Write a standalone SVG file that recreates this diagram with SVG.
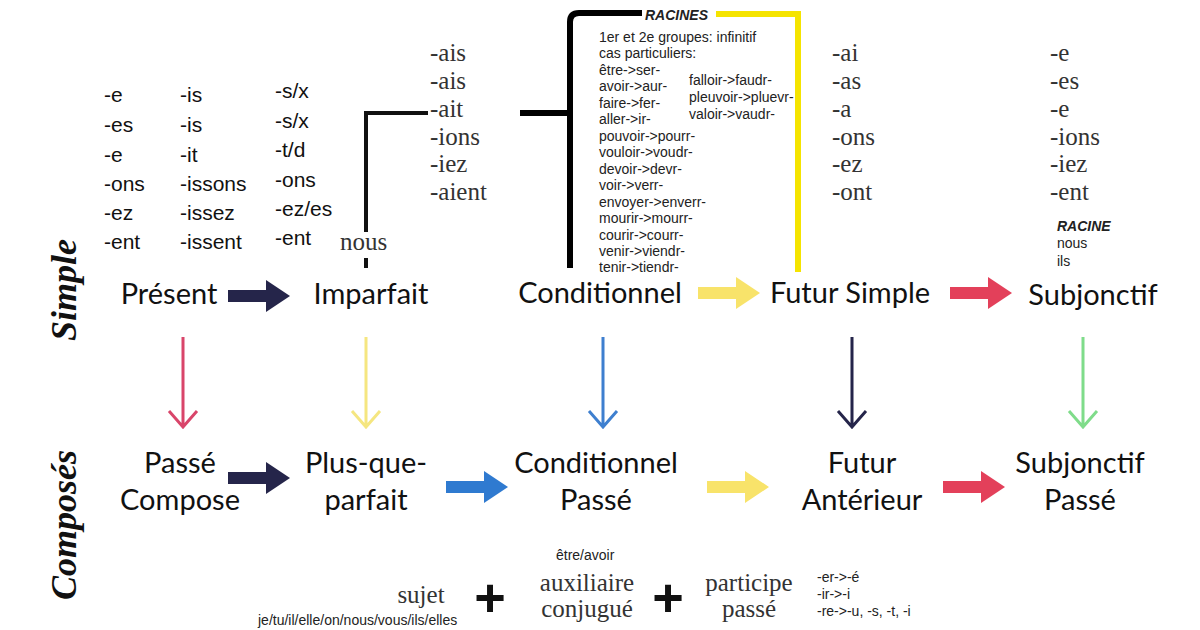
<svg xmlns="http://www.w3.org/2000/svg" width="1200" height="630" viewBox="0 0 1200 630">
<style>
.n{font-family:"Lato","Noto Sans",sans-serif;font-size:29px;fill:#111;text-anchor:middle}
.e{font-family:"Liberation Sans",Arial,sans-serif;font-size:21px;fill:#111}
.s{font-family:"Liberation Serif","Times New Roman",serif;font-size:25px;fill:#333}
.q{font-family:"Liberation Sans",Arial,sans-serif;font-size:14px;fill:#222}
.t{font-family:"Liberation Serif",serif;font-style:italic;font-weight:bold;font-size:36px;fill:#111;text-anchor:middle}
.f{font-family:"Liberation Serif",serif;font-size:25px;fill:#333;text-anchor:middle}
</style>
<defs>
<path id="ha" d="M0,-6 H38 V-16 L62,0 L38,16 V6 H0 Z"/>
<path id="dn" d="M0,0 V88 M-14,74 L0,90 L14,74" fill="none" stroke-width="3"/>
</defs>
<rect width="1200" height="630" fill="#fff"/>
<text class="t" transform="translate(76,290) rotate(-90)">Simple</text>
<text class="t" transform="translate(76,525) rotate(-90)">Composés</text>
<g id="ends">
<text class="e" x="104" y="102">-e</text><text class="e" x="104" y="132">-es</text><text class="e" x="104" y="162">-e</text><text class="e" x="104" y="191">-ons</text><text class="e" x="104" y="220">-ez</text><text class="e" x="104" y="249">-ent</text>
<text class="e" x="180" y="102">-is</text><text class="e" x="180" y="132">-is</text><text class="e" x="180" y="162">-it</text><text class="e" x="180" y="191">-issons</text><text class="e" x="180" y="220">-issez</text><text class="e" x="180" y="249">-issent</text>
<text class="e" x="275" y="98">-s/x</text><text class="e" x="275" y="128">-s/x</text><text class="e" x="275" y="157">-t/d</text><text class="e" x="275" y="187">-ons</text><text class="e" x="275" y="216">-ez/es</text><text class="e" x="275" y="245">-ent</text>
<text class="s" x="340" y="250" font-size="23">nous</text>
<text class="s" x="430" y="61">-ais</text><text class="s" x="430" y="89">-ais</text><text class="s" x="430" y="117">-ait</text><text class="s" x="430" y="145">-ions</text><text class="s" x="430" y="172">-iez</text><text class="s" x="430" y="200">-aient</text>
<text class="s" x="832" y="61">-ai</text><text class="s" x="832" y="89">-as</text><text class="s" x="832" y="117">-a</text><text class="s" x="832" y="145">-ons</text><text class="s" x="832" y="172">-ez</text><text class="s" x="832" y="200">-ont</text>
<text class="s" x="1050" y="61">-e</text><text class="s" x="1050" y="89">-es</text><text class="s" x="1050" y="117">-e</text><text class="s" x="1050" y="145">-ions</text><text class="s" x="1050" y="172">-iez</text><text class="s" x="1050" y="200">-ent</text>
<text class="q" x="1057" y="231" font-weight="bold" font-style="italic">RACINE</text>
<text class="q" x="1057" y="248">nous</text><text class="q" x="1057" y="266">ils</text>
</g>
<g id="racines">
<text class="q" x="645" y="20" font-weight="bold" font-style="italic">RACINES</text>
<text class="q" x="599" y="42">1er et 2e groupes: infinitif</text>
<text class="q" x="599" y="58">cas particuliers:</text>
<text class="q" x="599" y="75">être-&gt;ser-</text>
<text class="q" x="599" y="91">avoir-&gt;aur-</text>
<text class="q" x="599" y="108">faire-&gt;fer-</text>
<text class="q" x="599" y="124">aller-&gt;ir-</text>
<text class="q" x="599" y="141">pouvoir-&gt;pourr-</text>
<text class="q" x="599" y="157">vouloir-&gt;voudr-</text>
<text class="q" x="599" y="174">devoir-&gt;devr-</text>
<text class="q" x="599" y="190">voir-&gt;verr-</text>
<text class="q" x="599" y="207">envoyer-&gt;enverr-</text>
<text class="q" x="599" y="223">mourir-&gt;mourr-</text>
<text class="q" x="599" y="240">courir-&gt;courr-</text>
<text class="q" x="599" y="256">venir-&gt;viendr-</text>
<text class="q" x="599" y="272">tenir-&gt;tiendr-</text>
<text class="q" x="689" y="85">falloir-&gt;faudr-</text>
<text class="q" x="689" y="102">pleuvoir-&gt;pluevr-</text>
<text class="q" x="689" y="119">valoir-&gt;vaudr-</text>
</g>
<g id="connectors">
<path d="M366,268 V258 M366,232 V113 H428" fill="none" stroke="#111" stroke-width="4"/>
<path d="M520,113 H570 M570,268 V22 Q570,13 579,13 H642" fill="none" stroke="#000" stroke-width="6"/>
<path d="M716,14 H798 V272" fill="none" stroke="#f5e400" stroke-width="6"/>
<use href="#ha" transform="translate(228,296)" fill="#25254a"/>
<use href="#ha" transform="translate(698,293)" fill="#f8e36a"/>
<use href="#ha" transform="translate(950,293)" fill="#e3405a"/>
<use href="#ha" transform="translate(228,478)" fill="#25254a"/>
<use href="#ha" transform="translate(446,487)" fill="#2f7ad0"/>
<use href="#ha" transform="translate(707,487)" fill="#f8e36a"/>
<use href="#ha" transform="translate(943,487)" fill="#e3405a"/>
<use href="#dn" transform="translate(183,337)" stroke="#d9456a"/>
<use href="#dn" transform="translate(366,337)" stroke="#f5e680"/>
<use href="#dn" transform="translate(603,337)" stroke="#3e7fcf"/>
<use href="#dn" transform="translate(852,337)" stroke="#25254a"/>
<use href="#dn" transform="translate(1083,337)" stroke="#7fdc8a"/>
</g>
<g id="present"><text class="n" x="169" y="304">Présent</text></g>
<g id="imparfait"><text class="n" x="371" y="304">Imparfait</text></g>
<g id="conditionnel"><text class="n" x="600" y="303">Conditionnel</text></g>
<g id="futur-simple"><text class="n" x="850" y="303">Futur Simple</text></g>
<g id="subjonctif"><text class="n" x="1093" y="305">Subjonctif</text></g>
<g id="passe-compose"><text class="n" x="180" y="473">Passé</text><text class="n" x="180" y="510">Compose</text></g>
<g id="plus-que-parfait"><text class="n" x="366" y="473">Plus-que-</text><text class="n" x="366" y="510">parfait</text></g>
<g id="conditionnel-passe"><text class="n" x="596" y="473">Conditionnel</text><text class="n" x="596" y="510">Passé</text></g>
<g id="futur-anterieur"><text class="n" x="862" y="473">Futur</text><text class="n" x="862" y="510">Antérieur</text></g>
<g id="subjonctif-passe"><text class="n" x="1080" y="473">Subjonctif</text><text class="n" x="1080" y="510">Passé</text></g>
<g id="formule">
<text class="f" x="421" y="603">sujet</text>
<text class="q" x="258" y="625">je/tu/il/elle/on/nous/vous/ils/elles</text>
<text x="490" y="616" font-family="Liberation Sans,sans-serif" font-weight="bold" font-size="54" text-anchor="middle" fill="#111">+</text>
<text class="q" x="556" y="560">être/avoir</text>
<text class="f" x="587" y="591">auxiliaire</text>
<text class="f" x="587" y="617">conjugué</text>
<text x="668" y="616" font-family="Liberation Sans,sans-serif" font-weight="bold" font-size="54" text-anchor="middle" fill="#111">+</text>
<text class="f" x="749" y="591">participe</text>
<text class="f" x="749" y="617">passé</text>
<text class="q" x="817" y="582">-er-&gt;-é</text>
<text class="q" x="817" y="599">-ir-&gt;-i</text>
<text class="q" x="817" y="616">-re-&gt;-u, -s, -t, -i</text>
</g>
</svg>
